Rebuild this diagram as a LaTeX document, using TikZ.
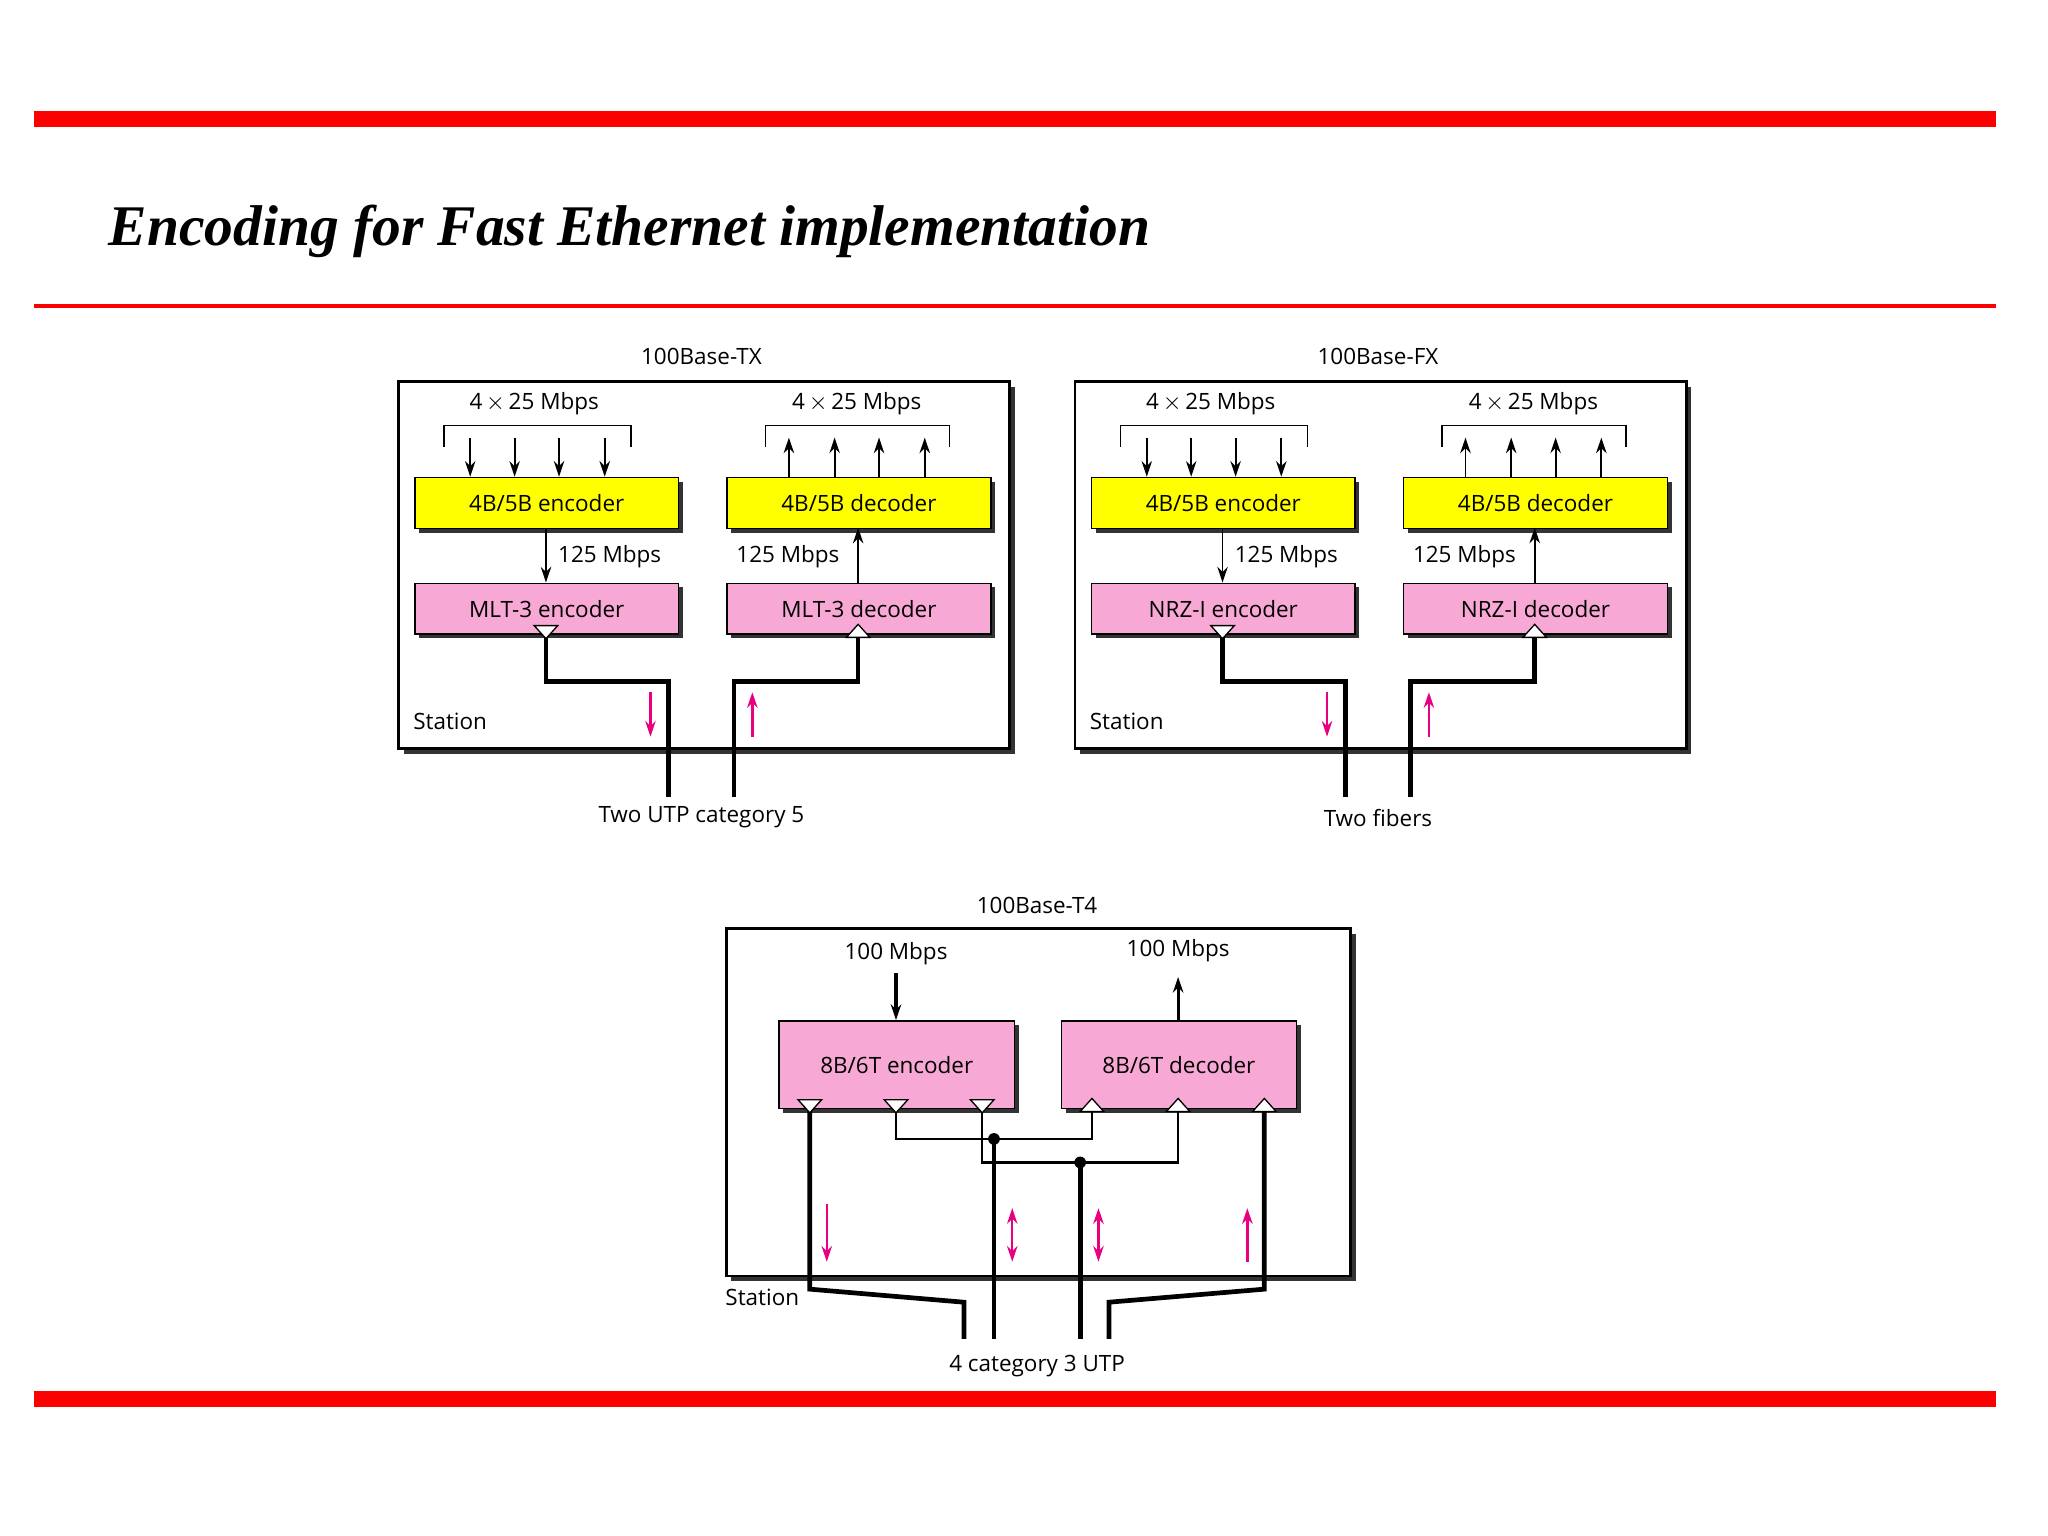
\documentclass[tikz,border=0pt]{standalone}
\usepackage{fontspec}
\setmainfont{Open Sans}
\newfontfamily\titlefont{Liberation Serif}
\usetikzlibrary{arrows.meta,shadows,calc}
\definecolor{myred}{RGB}{250,0,0}
\definecolor{mypink}{RGB}{248,168,212}
\definecolor{myyel}{RGB}{255,255,0}
\definecolor{arrpink}{RGB}{232,0,128}
\tikzset{
  blk/.style={draw,line width=0.6pt,anchor=north west,inner sep=0pt,font=\fontsize{8.6}{10}\selectfont,
     drop shadow={shadow xshift=1.6pt,shadow yshift=-1.6pt,fill=black!80,opacity=1}},
  yel/.style={blk,fill=myyel},
  pnk/.style={blk,fill=mypink},
  lbl/.style={font=\fontsize{8.6}{10}\selectfont,inner sep=0pt},
  station/.style={draw,line width=1pt,drop shadow={shadow xshift=2pt,shadow yshift=-2pt,fill=black!80,opacity=1},fill=white},
  thk/.style={line width=1.8pt},
  thn/.style={line width=0.8pt},
  arr/.style={line width=0.7pt,-{Stealth[length=6pt,width=4pt]}},
  parr/.style={arrpink,line width=0.9pt,-{Stealth[length=6pt,width=4pt]}},
  dparr/.style={arrpink,line width=0.9pt,{Stealth[length=6pt,width=4pt]}-{Stealth[length=6pt,width=4pt]}},
  tri/.style={fill=white,draw,line width=0.5pt}
}
\newcommand\trid[1]{\draw[tri] ($(#1)+(-9,-4)$) -- ($(#1)+(9,-4)$) -- ($(#1)+(0,6)$) -- cycle;}
\newcommand\triu[1]{\draw[tri] ($(#1)+(-9,5)$) -- ($(#1)+(9,5)$) -- ($(#1)+(0,-5)$) -- cycle;}
\newcommand\halfblock[6]{%
 \begin{scope}[xshift=#1]
  \node[station,minimum width=234pt,minimum height=140.5pt,anchor=north west] (#2st) at (304,291) {};
  \node[lbl] at (537,273) {#3};
  \node[lbl,anchor=west] at (316,552) {Station};
  \node[lbl] at (409,309) {4\,$\times$\,25 Mbps};
  \node[lbl] at (656,309) {4\,$\times$\,25 Mbps};
  \draw[line width=0.5pt] (340,342) -- (340,326) -- (483,326) -- (483,342);
  \draw[line width=0.5pt] (586,342) -- (586,326) -- (727,326) -- (727,342);
  \node[yel,minimum width=101pt,minimum height=19.5pt] (#2e) at (317,365) {4B/5B encoder};
  \node[yel,minimum width=101pt,minimum height=19.5pt] (#2d) at (556,365) {4B/5B decoder};
  \node[pnk,minimum width=101pt,minimum height=19.5pt] (#2m) at (317,446) {#4};
  \node[pnk,minimum width=101pt,minimum height=19.5pt] (#2n) at (556,446) {#5};
  \foreach \x in {360,394,428,463} \draw[arr] (\x,335) -- (\x,365);
  \foreach \x in {604,639,673,708} \draw[arr] (\x,365) -- (\x,335);
  \draw[arr] (418,404) -- (418,446);
  \draw[arr] (657,446) -- (657,404);
  \node[lbl,anchor=west] at (427,426) {125 Mbps};
  \node[lbl,anchor=east] at (643,426) {125 Mbps};
  \coordinate (#2ta) at (418,483);
  \coordinate (#2tb) at (657,483);
  \coordinate (#2oa) at (512,610);
  \coordinate (#2ob) at (562,610);
  \draw[thk] (#2ta) -- (418,522) -- (512,522) -- (#2oa);
  \draw[thk] (#2tb) -- (657,522) -- (562,522) -- (#2ob);
  \trid{#2ta}\triu{#2tb}
  \draw[parr] (498,530) -- (498,564);
  \draw[parr] (576,564) -- (576,530);
  \node[lbl] at (537,626) {#6};
 \end{scope}}
\begin{document}
\begin{tikzpicture}[x=0.5pt,y=-0.5pt]
\useasboundingbox (0,0) rectangle (1568,1176);
\fill[white] (0,0) rectangle (1568,1176);
\fill[myred] (26,85) rectangle (1528,97);
\fill[myred] (26,233) rectangle (1528,236);
\fill[myred] (26,1065) rectangle (1528,1077);
\node[anchor=west,inner sep=0pt,font=\titlefont\fontsize{22}{26}\selectfont\bfseries\itshape] (title) at (83,177) {Encoding for Fast Ethernet implementation};
\halfblock{0pt}{tx}{100Base-TX}{MLT-3 encoder}{MLT-3 decoder}{Two UTP category 5}
\halfblock{259pt}{fx}{100Base-FX}{NRZ-I encoder}{NRZ-I decoder}{Two fibers}
% T4
\node[station,minimum width=239pt,minimum height=133pt,anchor=north west] (t4) at (555,710) {};
\node[lbl] at (794,693) {100Base-T4};
\node[lbl,anchor=west] at (555,993) {Station};
\node[pnk,minimum width=90pt,minimum height=33.5pt] (enc) at (596,781) {8B/6T encoder};
\node[pnk,minimum width=90pt,minimum height=33.5pt] (dec) at (812,781) {8B/6T decoder};
\node[lbl] (ina) at (686,730) {100 Mbps};
\node[lbl] (outa) at (902,728) {100 Mbps};
\draw[arr,line width=1.2pt] (686,745) -- (686,781);
\draw[arr,line width=1.2pt] (902,781) -- (902,748);
\foreach \x/\n in {620/a,686/b,752/c} \coordinate (e\n) at (\x,846);
\foreach \x/\n in {836/a,902/b,968/c} \coordinate (d\n) at (\x,846);
\draw[thn] (eb) -- (686,872) -- (836,872) -- (da);
\draw[thn] (ec) -- (752,890) -- (902,890) -- (db);
\draw[thk] (ea) -- (620,987) -- (738,997) -- (738,1025);
\draw[thk] (761,872) -- (761,1025);
\draw[thk] (827,890) -- (827,1025);
\draw[thk] (dc) -- (968,987) -- (849,997) -- (849,1025);
\fill (761,872) circle (4.5);
\fill (827,890) circle (4.5);
\trid{ea}\trid{eb}\trid{ec}
\triu{da}\triu{db}\triu{dc}
\draw[parr] (633,922) -- (633,966);
\draw[dparr] (775,925) -- (775,966);
\draw[dparr] (841,925) -- (841,966);
\draw[parr] (955,966) -- (955,925);
\node[lbl] at (794,1046) {4 category 3 UTP};
\end{tikzpicture}
\end{document}
